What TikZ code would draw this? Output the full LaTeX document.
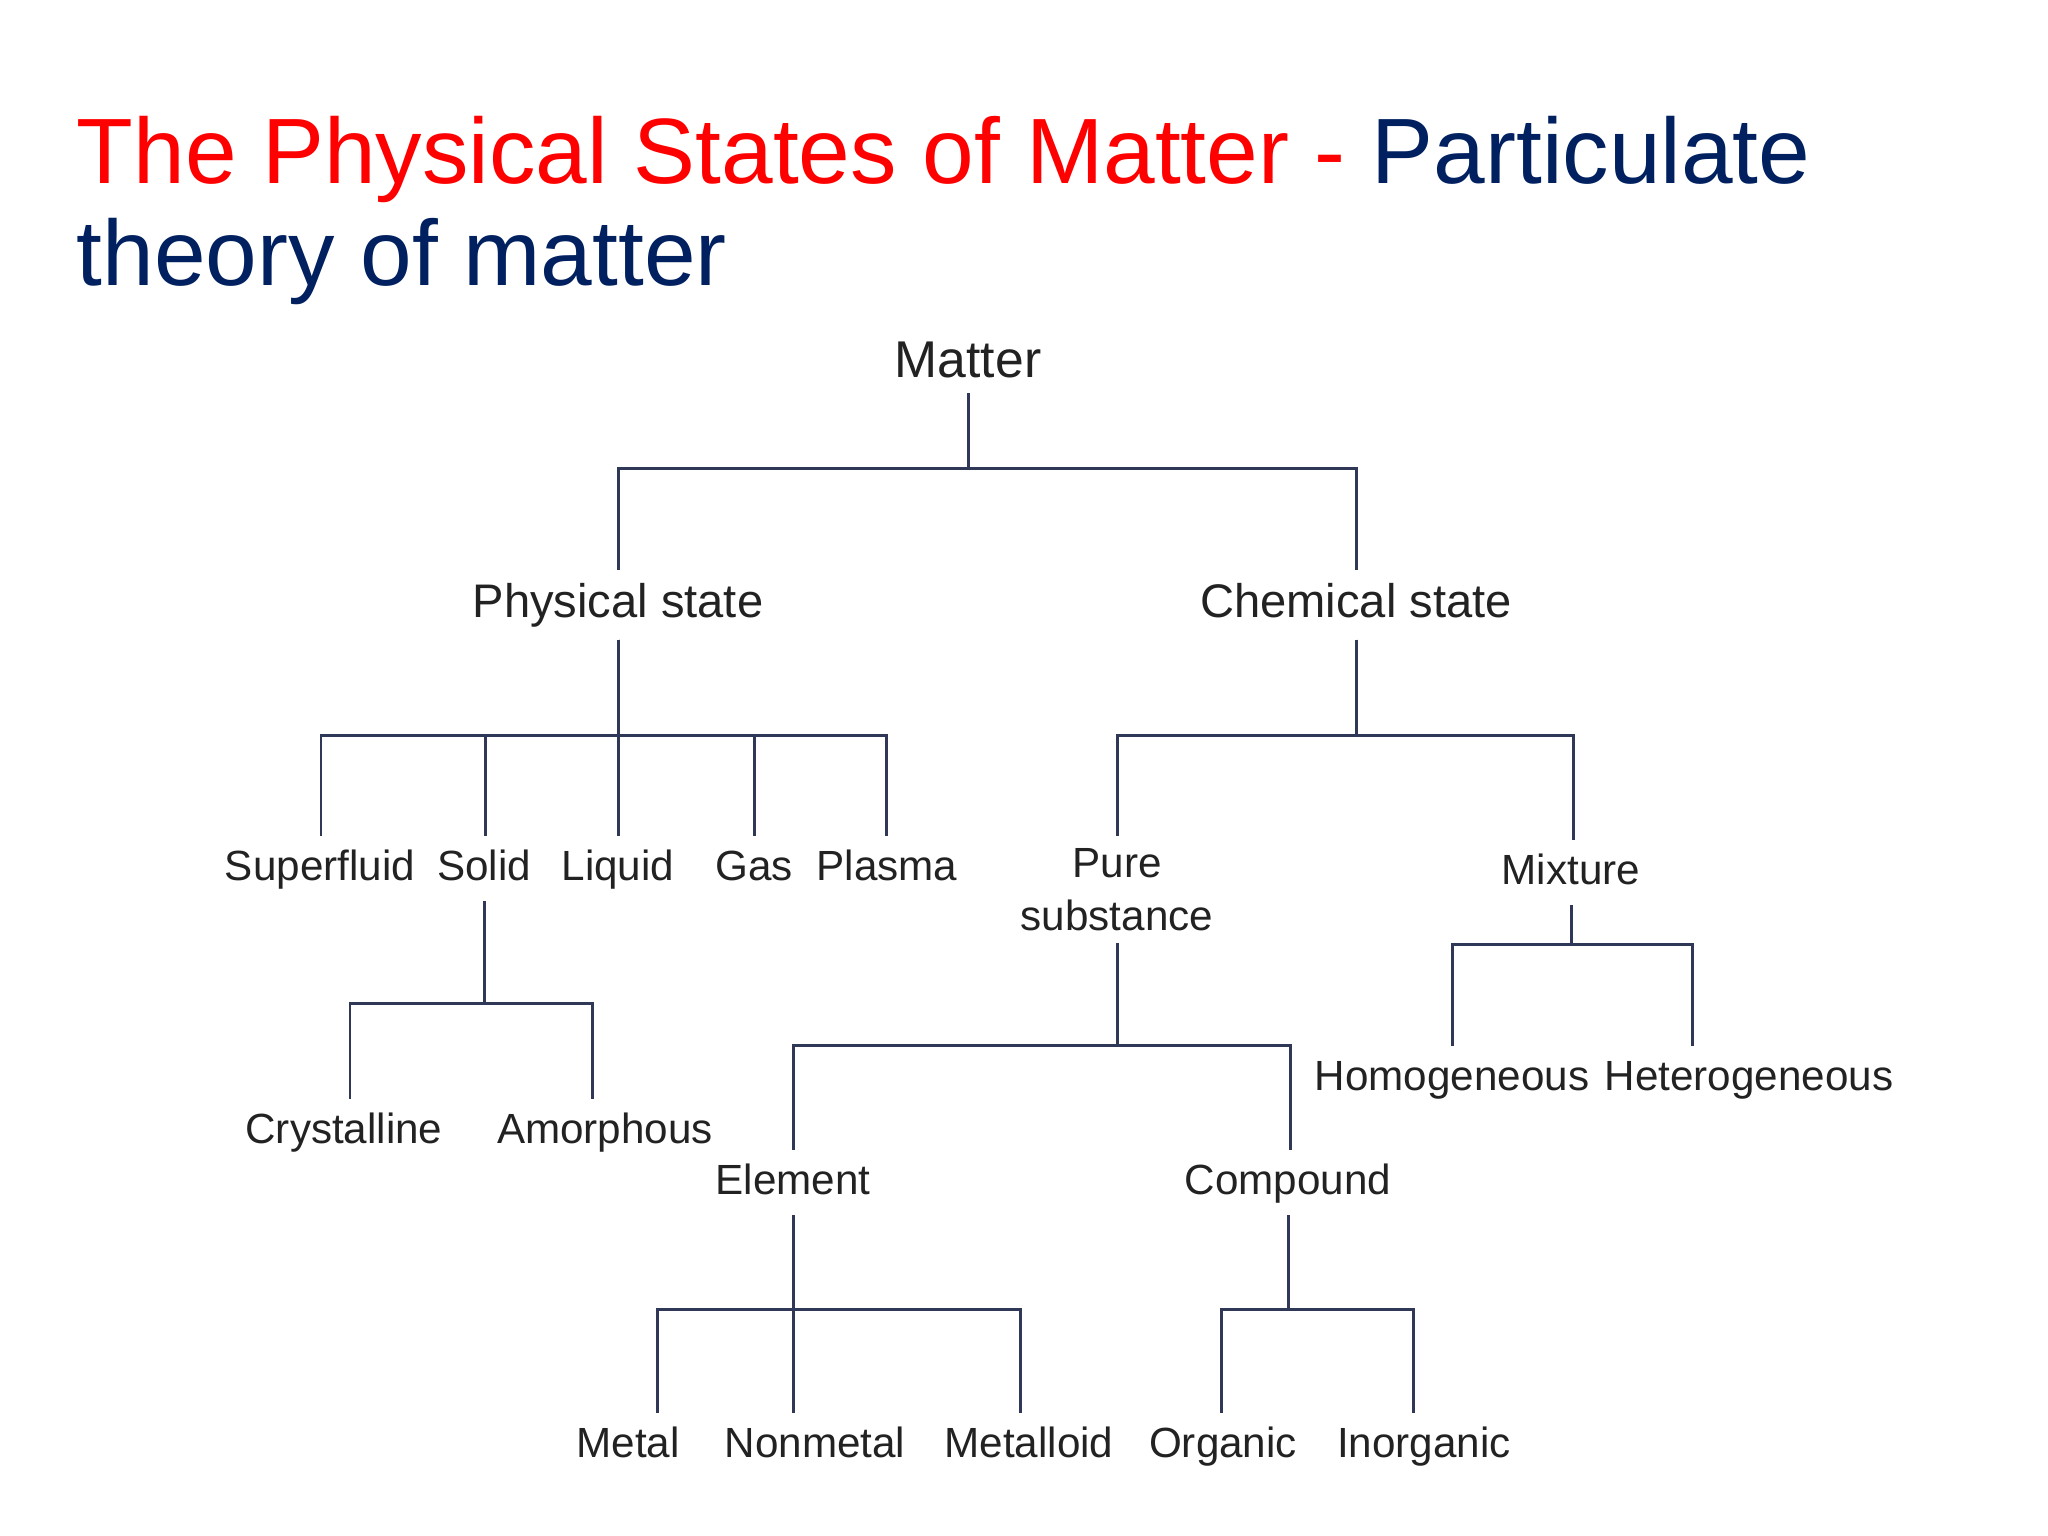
\documentclass[tikz,border=0pt]{standalone}
\usepackage{fontspec}
\setmainfont{Liberation Sans}

\definecolor{linecol}{RGB}{48,56,88}
\definecolor{textcol}{RGB}{34,34,34}
\definecolor{ttlred}{RGB}{255,0,0}
\definecolor{ttlnavy}{RGB}{0,32,96}

\begin{document}
\begin{tikzpicture}[x=0.01cm, y=-0.01cm,
        link/.style={draw=linecol, line width=0.85pt},
        lbl/.style={anchor=base, inner sep=0pt, outer sep=3.5pt, text=textcol,
            font=\fontsize{12}{15}\selectfont, text height=9pt, text depth=2.6pt},
        lvlone/.style={lbl, font=\fontsize{13.4}{16}\selectfont,
            text height=10pt, text depth=2.9pt},
        rootlbl/.style={lbl, font=\fontsize{14.7}{17}\selectfont,
            text height=11pt, text depth=1pt},
        twoline/.style={anchor=north, align=center, inner sep=0pt,
            outer sep=3.5pt, text=textcol, font=\fontsize{12}{15}\selectfont},
        ttl/.style={anchor=base west, inner sep=0pt,
            font=\fontsize{26.4}{30}\selectfont}]
    \useasboundingbox[fill=white] (0,0) rectangle (2048,1536);

    % title
    \node[ttl] (ttlA) at (76,183) {\textcolor{ttlred}{The Physical States of
        Matter -} \textcolor{ttlnavy}{Particulate}};
    \node[ttl, text=ttlnavy] (ttlB) at (76,285) {theory of matter};

    % labels
    \node[rootlbl] (matter) at (968,377) {Matter};
    \node[lvlone] (phys) at (618,617) {Physical state};
    \node[lvlone] (chem) at (1356,617) {Chemical state};
    \node[lbl] (sfl) at (320,880) {Superfluid};
    \node[lbl] (sol) at (484,880) {Solid};
    \node[lbl] (liq) at (618,880) {Liquid};
    \node[lbl] (gas) at (754,880) {Gas};
    \node[lbl] (pla) at (887,880) {Plasma};
    \node[twoline] (pure) at (1117,836) {Pure\\substance};
    \node[lbl] (mix) at (1571,884) {Mixture};
    \node[lbl] (hom) at (1452,1090) {Homogeneous};
    \node[lbl] (het) at (1749,1090) {Heterogeneous};
    \node[lbl] (cry) at (344,1143) {Crystalline};
    \node[lbl] (amo) at (605,1143) {Amorphous};
    \node[lbl] (elem) at (793,1194) {Element};
    \node[lbl] (comp) at (1288,1194) {Compound};
    \node[lbl] (metal) at (628,1457) {Metal};
    \node[lbl] (nonm) at (815,1457) {Nonmetal};
    \node[lbl] (mtld) at (1029,1457) {Metalloid};
    \node[lbl] (org) at (1223,1457) {Organic};
    \node[lbl] (inorg) at (1424,1457) {Inorganic};

    % branches
    \foreach \c/\x in {phys/618, chem/1356}
        \draw[link] (matter) |- (\x,468) -- (\c.north -| \x,0);
    \foreach \c/\x in {sfl/321, sol/485, liq/618, gas/754, pla/886}
        \draw[link] (phys) |- (\x,735) -- (\c.north -| \x,0);
    \foreach \c/\x in {pure/1117, mix/1573}
        \draw[link] (chem) |- (\x,735) -- (\c.north -| \x,0);
    \foreach \c/\x in {cry/350, amo/592}
        \draw[link] (sol) |- (\x,1003) -- (\c.north -| \x,0);
    \foreach \c/\x in {elem/793, comp/1290}
        \draw[link] (pure) |- (\x,1045) -- (\c.north -| \x,0);
    \foreach \c/\x in {hom/1452, het/1692}
        \draw[link] (mix) |- (\x,944) -- (\c.north -| \x,0);
    \foreach \c/\x in {metal/657, nonm/793, mtld/1020}
        \draw[link] (elem) |- (\x,1309) -- (\c.north -| \x,0);
    \foreach \c/\x in {org/1221, inorg/1413}
        \draw[link] (comp) |- (\x,1309) -- (\c.north -| \x,0);
\end{tikzpicture}
\end{document}
